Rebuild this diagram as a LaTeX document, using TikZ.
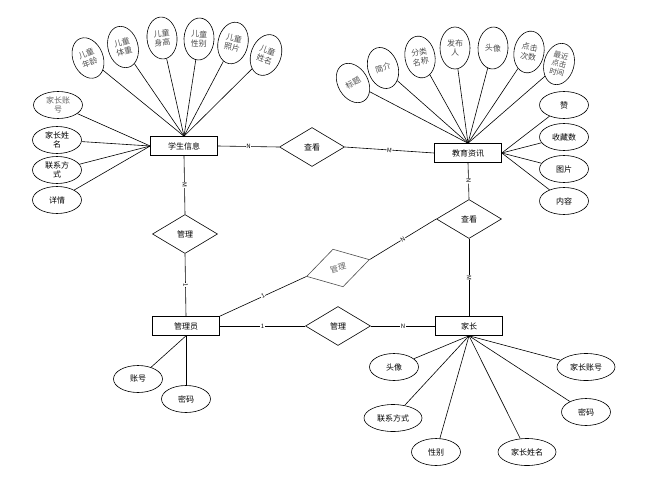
\documentclass[tikz,border=0pt]{standalone}
\usepackage{fontspec}
\setmainfont{Noto Sans CJK SC}
\usetikzlibrary{shapes.geometric}
\tikzset{
  entity/.style={draw,rectangle,minimum width=67pt,minimum height=19pt,inner sep=0pt},
  attr/.style={draw,ellipse,minimum width=49pt,minimum height=27pt,inner sep=0pt,align=center},
  wattr/.style={attr,minimum width=58pt},
  tattr/.style={draw,ellipse,minimum width=30pt,minimum height=42pt,inner sep=0pt,align=center,text=black!70},
  rel/.style={draw,diamond,minimum width=65pt,minimum height=39pt,inner sep=0pt},
  card/.style={fill=white,inner sep=0.5pt,sloped,font=\fontsize{6}{6}\selectfont},
}
\begin{document}
\begin{tikzpicture}[x=1pt,y=-1pt,line width=0.6pt,font=\fontsize{8}{9.5}\selectfont]
\useasboundingbox (0,0) rectangle (652,479);

% entities
\node[entity] (xs) at (184,146) {学生信息};
\node[entity] (jy) at (468,153) {教育资讯};
\node[entity] (gly) at (186,326) {管理员};
\node[entity] (jz) at (469,326) {家长};

% relations
\node[rel] (ck1) at (312,147) {查看};
\node[rel] (gl1) at (185,234) {管理};
\node[rel] (ck2) at (469,219) {查看};
\node[rel,rotate=15,draw=black!70,text=black!60] (gl2) at (338,268) {管理};
\node[rel] (gl3) at (338,326) {管理};

% 学生信息 attributes
\node[tattr,rotate=22] (a1) at (88,58) {儿童\\年龄};
\node[tattr,rotate=15] (a2) at (123,47) {儿童\\体重};
\node[tattr,rotate=5] (a3) at (162,38) {儿童\\身高};
\node[tattr,rotate=-3] (a4) at (199,39) {儿童\\性别};
\node[tattr,rotate=-12] (a5) at (233,43) {儿童\\照片};
\node[tattr,rotate=-20] (a6) at (266,55) {儿童\\姓名};
\foreach \n in {a1,a2,a3,a4,a5,a6}
  \draw (\n) -- (xs.north);
\node[attr,text=black!60] (b1) at (58,105) {家长账\\号};
\node[attr] (b2) at (57,140) {家长姓\\名};
\node[attr] (b3) at (57,170) {联系方\\式};
\node[attr] (b4) at (57,200) {详情};
\foreach \n in {b1,b2,b3,b4}
  \draw (\n) -- (xs.west);

% 教育资讯 attributes
\node[tattr,rotate=30] (c1) at (353,83) {标题};
\node[tattr,rotate=18] (c2) at (383,68) {简介};
\node[tattr,rotate=10] (c3) at (420,57) {分类\\名称};
\node[tattr] (c4) at (455,48) {发布\\人};
\node[tattr,rotate=-3] (c5) at (493,48) {头像};
\node[tattr,rotate=-10] (c6) at (529,52) {点击\\次数};
\node[tattr,rotate=-15,font=\fontsize{7.5}{8.5}\selectfont] (c7) at (559,64) {最近\\点击\\时间};
\foreach \n in {c1,c2,c3,c4,c5,c6,c7}
  \draw (\n) -- (jy.north);
\node[attr] (d1) at (564,105) {赞};
\node[attr] (d2) at (564,137) {收藏数};
\node[attr] (d3) at (564,169) {图片};
\node[attr] (d4) at (564,201) {内容};
\foreach \n in {d1,d2,d3,d4}
  \draw (\n) -- (jy.east);

% 管理员 attributes
\node[attr] (e1) at (138,379) {账号};
\node[attr] (e2) at (186,399) {密码};
\foreach \n in {e1,e2}
  \draw (\n) -- (gly.south);

% 家长 attributes
\node[attr] (f1) at (394,367) {头像};
\node[wattr] (f2) at (586,367) {家长账号};
\node[wattr] (f3) at (393,418) {联系方式};
\node[attr] (f4) at (586,412) {密码};
\node[attr] (f5) at (436,452) {性别};
\node[wattr] (f6) at (527,452) {家长姓名};
\foreach \n in {f1,f2,f3,f4,f5,f6}
  \draw (\n) -- (jz.south);

% relationships
\draw (xs.east) -- node[card]{N} (ck1.west);
\draw (ck1.east) -- node[card]{M} (jy.west);
\draw (xs.south) -- node[card]{M} (gl1.north);
\draw (gl1.south) -- node[card]{1} (gly.north);
\draw (gly.east) -- node[card]{1} (gl3.west);
\draw (gl3.east) -- node[card]{N} (jz.west);
\draw (gly.north east) -- node[card]{1} (gl2.west);
\draw (gl2.east) -- node[card]{N} (ck2.west);
\draw (ck2.north) -- node[card]{N} (jy.south);
\draw (ck2.south) -- node[card]{M} (jz.north);
\end{tikzpicture}
\end{document}
